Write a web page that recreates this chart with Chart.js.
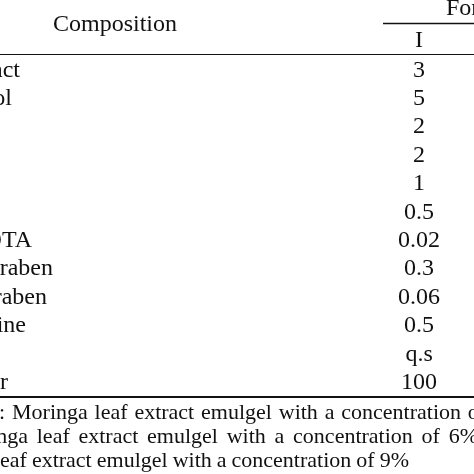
<!DOCTYPE html>
<html>
<head>
<meta charset="utf-8">
<script src="https://cdn.jsdelivr.net/npm/chart.js@4"></script>
<style>
  html, body { margin: 0; padding: 0; background: #fff; }
  #wrap { width: 474px; height: 474px; }
</style>
</head>
<body>
<div id="wrap"><canvas id="tbl" width="474" height="474"></canvas></div>
<script>
// table rows (left column is cropped in the reference)
var components = ['Moringa leaf extract', 'Propylene glycol', 'Span 60', 'Tween 80', 'Carbopol', 'TEA',
    'Na EDTA', 'Methylparaben', 'Propylparaben', 'Paraffine', 'Perfume', 'Distilled water'];
var labelEnds = [20, 12, -4, -4, -4, -4, 32, 53, 47, 26, -4, 8];
var formulaI = ['3', '5', '2', '2', '1', '0.5', '0.02', '0.3', '0.06', '0.5', 'q.s', '100'];
var notes = [
    ['F1:', 'Moringa', 'leaf', 'extract', 'emulgel', 'with', 'a', 'concentration', 'of', '3%'],
    ['F2:', 'Moringa', 'leaf', 'extract', 'emulgel', 'with', 'a', 'concentration', 'of', '6%'],
    ['F3:', 'Moringa', 'leaf', 'extract', 'emulgel', 'with', 'a', 'concentration', 'of', '9%']
];

var serif = '"Liberation Serif", "DejaVu Serif", serif';

function justify(ctx, words, anchorIdx, anchorLeft, lastIdx, lastRight, y) {
    // spread words anchorIdx..lastIdx between anchorLeft and lastRight
    var total = 0;
    for (var i = anchorIdx; i <= lastIdx; i++) total += ctx.measureText(words[i]).width;
    var gap = (lastRight - anchorLeft - total) / (lastIdx - anchorIdx);
    var x = anchorLeft;
    for (var j = anchorIdx; j < words.length; j++) {
        ctx.fillText(words[j], x, y);
        x += ctx.measureText(words[j]).width + gap;
    }
    x = anchorLeft;
    for (var k = anchorIdx - 1; k >= 0; k--) {
        x -= gap + ctx.measureText(words[k]).width;
        ctx.fillText(words[k], x, y);
    }
}

var tablePlugin = {
    id: 'tablePlugin',
    afterDraw: function (chart) {
        var ctx = chart.ctx;
        var y = chart.scales.y;
        var x = chart.scales.x;
        var area = chart.chartArea;
        ctx.save();
        ctx.fillStyle = '#111';
        ctx.strokeStyle = '#111';
        ctx.textBaseline = 'middle';
        ctx.font = '24px ' + serif;

        // header
        ctx.textAlign = 'center';
        ctx.fillText('Composition', 115, 25);
        ctx.textAlign = 'left';
        ctx.fillText('Formula', 446, 9);
        ctx.textAlign = 'center';
        ctx.fillText('I', x.getPixelForValue(1), 41);

        ctx.lineWidth = 1.5;
        ctx.beginPath(); ctx.moveTo(383, 23.5); ctx.lineTo(474, 23.5); ctx.stroke();
        ctx.lineWidth = 1.2;
        ctx.beginPath(); ctx.moveTo(0, area.top - 1.5); ctx.lineTo(474, area.top - 1.5); ctx.stroke();
        ctx.lineWidth = 2;
        ctx.beginPath(); ctx.moveTo(0, area.bottom); ctx.lineTo(474, area.bottom); ctx.stroke();

        // body
        for (var i = 0; i < components.length; i++) {
            var py = y.getPixelForValue(i);
            ctx.textAlign = 'right';
            ctx.fillText(components[i], labelEnds[i], py);
            ctx.textAlign = 'center';
            ctx.fillText(formulaI[i], x.getPixelForValue(1), py);
        }

        // footnotes
        ctx.font = '22px ' + serif;
        ctx.textAlign = 'left';
        justify(ctx, notes[0], 1, 12, 7, 461, 413);
        justify(ctx, notes[1], 1, 28 - ctx.measureText('Moringa').width, 9, 478, 437);
        justify(ctx, notes[2], 2, 0 - ctx.measureText('l').width, 9, 409, 461);
        ctx.restore();
    }
};

new Chart(document.getElementById('tbl').getContext('2d'), {
    type: 'bar',
    data: {
        labels: components,
        datasets: [{ data: formulaI.map(function () { return 0; }), backgroundColor: 'rgba(0,0,0,0)' }]
    },
    options: {
        indexAxis: 'y',
        responsive: false,
        animation: false,
        layout: { padding: { top: 56, bottom: 77, left: 0, right: 0 } },
        plugins: { legend: { display: false }, tooltip: { enabled: false } },
        scales: {
            x: { type: 'linear', min: -1, max: 1.262, display: false },
            y: { type: 'category', offset: true, display: false }
        }
    },
    plugins: [tablePlugin]
});
</script>
</body>
</html>
